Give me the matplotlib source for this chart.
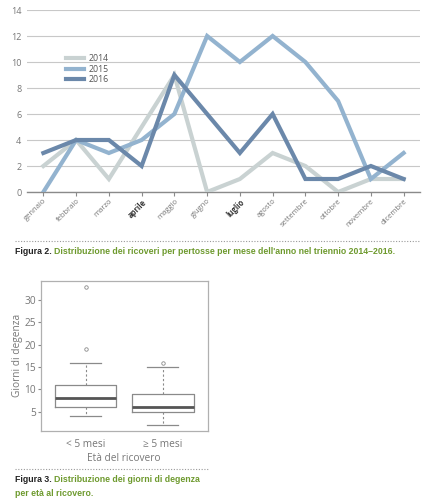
import matplotlib
matplotlib.use("Agg")
import matplotlib.pyplot as plt
import numpy as np

# ── data ──────────────────────────────────────────────────────────────────
mesi = ["gennaio", "febbraio", "marzo", "aprile", "maggio", "giugno",
        "luglio", "agosto", "settembre", "ottobre", "novembre", "dicembre"]
ric_2014 = [2, 4, 1, 5, 9, 0, 1, 3, 2, 0, 1, 1]
ric_2015 = [0, 4, 3, 4, 6, 12, 10, 12, 10, 7, 1, 3]
ric_2016 = [3, 4, 4, 2, 9, 6, 3, 6, 1, 1, 2, 1]
anni = ["2014", "2015", "2016"]
colori = ["#c9d2d2", "#93b3cf", "#6b88aa"]

# box statistics (days of stay) per age group
gruppi = ["< 5 mesi", "\u2265 5 mesi"]
whislo = [4, 2]
q1 = [6, 5]
med = [8, 6]
q3 = [11, 9]
whishi = [16, 15]
outliers = [[19, 33], [16]]

FONT = ["Open Sans", "DejaVu Sans"]
CAPF = ["Liberation Sans", "DejaVu Sans"]
CAP_SIZE = 6.3
GREY_TXT = "#777777"
GREEN = "#6e9a2e"

W, H = 426, 503
fig = plt.figure(figsize=(W / 100, H / 100), dpi=100)


def fx(px):
    return px / W


def fy(py):
    return 1 - py / H


# ── Figura 2: line chart ─────────────────────────────────────────────────
ax = fig.add_axes([fx(27), fy(192), fx(420 - 27), (192 - 10) / H])
x = np.arange(len(mesi))
for serie, lab, col in zip([ric_2014, ric_2015, ric_2016], anni, colori):
    ax.plot(x, serie, color=col, lw=3.0, label=lab, solid_joinstyle="miter",
            zorder=3)
ax.set_xlim(-0.5, 11.5)
ax.set_ylim(0, 14)
ax.set_yticks(range(0, 15, 2))
ax.grid(axis="y", color="#c8c8c8", lw=0.8, zorder=0)
for s in ["top", "right", "left"]:
    ax.spines[s].set_visible(False)
ax.spines["bottom"].set_color("#8a8a8a")
ax.spines["bottom"].set_linewidth(1.0)
ax.tick_params(axis="y", length=0, pad=4, labelsize=6.5, labelcolor=GREY_TXT)
ax.tick_params(axis="x", length=3, color="#8a8a8a", pad=1)
ax.set_xticks(x)
ax.set_xticklabels(mesi, rotation=45, ha="right", rotation_mode="anchor",
                   fontsize=5.5, color=GREY_TXT, family=FONT)
for lbl in ax.get_xticklabels():
    if lbl.get_text() in ("aprile", "luglio"):
        lbl.set_fontweight("bold")
        lbl.set_color("#333333")
for lbl in ax.get_yticklabels():
    lbl.set_family(FONT)
leg = ax.legend(loc="upper left", bbox_to_anchor=(0.08, 0.8), frameon=False,
                handlelength=2.0, labelspacing=0.15, handletextpad=0.6,
                prop={"family": FONT, "size": 6.3})
for t in leg.get_texts():
    t.set_color("#555555")

# caption 2
fig.add_artist(plt.Line2D([fx(15), fx(420)], [fy(241), fy(241)],
                          color="#9a9a9a", lw=0.8, ls=(0, (1, 1.5))))
t1 = fig.text(fx(15), fy(252), "Figura 2. ", fontsize=CAP_SIZE,
              fontweight="bold", color="#222222", va="center", family=CAPF)
fig.canvas.draw()
bb = t1.get_window_extent()
fig.text(bb.x1 / W, fy(252),
         "Distribuzione dei ricoveri per pertosse per mese dell'anno nel triennio 2014\u20132016.",
         fontsize=CAP_SIZE, fontweight="bold", color=GREEN, va="center",
         family=CAPF)

# ── Figura 3: boxplot ────────────────────────────────────────────────────
bx = fig.add_axes([fx(40.7), fy(430.7), fx(207.7 - 40.7), (430.7 - 281) / H])
stats = []
for i in range(len(gruppi)):
    stats.append(dict(label=gruppi[i], whislo=whislo[i], q1=q1[i], med=med[i],
                      q3=q3[i], whishi=whishi[i], fliers=outliers[i]))
bx.bxp(stats, positions=[1, 2], widths=0.8,
       boxprops=dict(color="#8a8a8a", lw=0.9),
       medianprops=dict(color="#555555", lw=2.0),
       whiskerprops=dict(color="#8a8a8a", lw=0.8, ls=(0, (2, 2))),
       capprops=dict(color="#8a8a8a", lw=0.9),
       flierprops=dict(marker="o", markersize=2.5, markerfacecolor="none",
                       markeredgecolor="#8a8a8a", markeredgewidth=0.6),
       capwidths=0.4)
bx.set_xlim(0.42, 2.58)
bx.set_ylim(0.76, 34.24)
bx.set_yticks([5, 10, 15, 20, 25, 30])
for s in bx.spines.values():
    s.set_color("#b0b0b0")
    s.set_linewidth(0.9)
bx.tick_params(axis="y", length=2, color="#8a8a8a", pad=1.5, labelsize=7.3,
               labelcolor=GREY_TXT)
bx.tick_params(axis="x", length=0, pad=6, labelsize=7.3, labelcolor=GREY_TXT)
for lbl in bx.get_xticklabels() + bx.get_yticklabels():
    lbl.set_family(FONT)
bx.set_ylabel("Giorni di degenza", fontsize=7.3, color=GREY_TXT, family=FONT,
              labelpad=1)
bx.set_xlabel("Et\u00e0 del ricovero", fontsize=7.3, color=GREY_TXT,
              family=FONT, labelpad=2)

# caption 3
fig.add_artist(plt.Line2D([fx(15), fx(208)], [fy(469), fy(469)],
                          color="#9a9a9a", lw=0.8, ls=(0, (1, 1.5))))
t3 = fig.text(fx(15), fy(480), "Figura 3. ", fontsize=CAP_SIZE,
              fontweight="bold", color="#222222", va="center", family=CAPF)
fig.canvas.draw()
bb3 = t3.get_window_extent()
fig.text(bb3.x1 / W, fy(480), "Distribuzione dei giorni di degenza",
         fontsize=CAP_SIZE, fontweight="bold", color=GREEN, va="center",
         family=CAPF)
fig.text(fx(15), fy(493), "per et\u00e0 al ricovero.",
         fontsize=CAP_SIZE, fontweight="bold", color=GREEN, va="center",
         family=CAPF)

fig.savefig("out.png", dpi=100)
